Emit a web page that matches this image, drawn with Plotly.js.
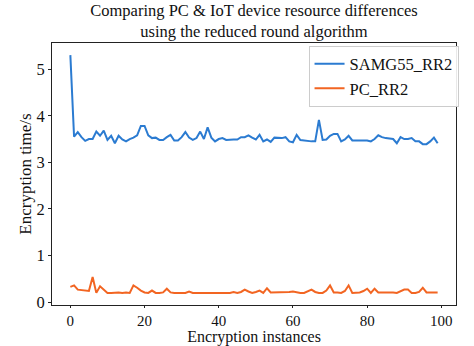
<!DOCTYPE html>
<html>
<head>
<meta charset="utf-8">
<script src="https://cdn.plot.ly/plotly-3.0.1.min.js"></script>
<style>html,body{margin:0;padding:0;background:#fff;}#chart{width:474px;height:346px;}</style>
</head>
<body>
<div id="chart"></div>
<script>
const instances = Array.from({length: 100}, (_, i) => i);
const samg55RR2 = [5.3,3.55,3.65,3.54,3.46,3.50,3.50,3.66,3.57,3.68,
3.48,3.57,3.41,3.57,3.49,3.45,3.50,3.53,3.58,3.78,
3.78,3.58,3.52,3.53,3.48,3.48,3.54,3.59,3.47,3.47,
3.54,3.65,3.53,3.48,3.52,3.66,3.50,3.75,3.53,3.45,
3.50,3.52,3.48,3.49,3.49,3.49,3.54,3.54,3.58,3.53,
3.49,3.59,3.45,3.49,3.44,3.53,3.53,3.52,3.54,3.45,
3.43,3.59,3.48,3.47,3.45,3.45,3.45,3.91,3.48,3.49,
3.57,3.61,3.61,3.45,3.49,3.57,3.47,3.47,3.47,3.48,
3.47,3.45,3.50,3.58,3.54,3.52,3.51,3.50,3.41,3.54,
3.50,3.50,3.52,3.45,3.45,3.39,3.39,3.45,3.53,3.41];
const pcRR2 = [0.33,0.36,0.27,0.26,0.26,0.24,0.54,0.20,0.34,0.27,
0.20,0.20,0.21,0.21,0.20,0.21,0.20,0.36,0.31,0.25,
0.21,0.20,0.25,0.20,0.20,0.21,0.29,0.21,0.20,0.20,
0.20,0.20,0.23,0.20,0.20,0.20,0.21,0.20,0.21,0.20,
0.20,0.20,0.21,0.20,0.22,0.20,0.22,0.27,0.23,0.20,
0.22,0.25,0.20,0.30,0.21,0.21,0.21,0.21,0.21,0.22,
0.23,0.21,0.20,0.20,0.23,0.27,0.22,0.20,0.20,0.25,
0.36,0.21,0.21,0.20,0.24,0.36,0.20,0.21,0.21,0.24,
0.29,0.20,0.29,0.21,0.21,0.22,0.21,0.21,0.20,0.23,
0.27,0.27,0.20,0.20,0.22,0.31,0.21,0.21,0.21,0.21];
const seriesNames = ["SAMG55_RR2", "PC_RR2"];
const xTicks = [0, 20, 40, 60, 80, 100];
const yTicks = [0, 1, 2, 3, 4, 5];

const serif = "Times New Roman, Liberation Serif, serif";
const traces = [
  {x: instances, y: samg55RR2, name: seriesNames[0], type: "scatter", mode: "lines",
   line: {color: "#2b7bd1", width: 2}},
  {x: instances, y: pcRR2, name: seriesNames[1], type: "scatter", mode: "lines",
   line: {color: "#f26522", width: 2}}
];
const axisCommon = {
  showline: true, mirror: true, linecolor: "#222", linewidth: 1,
  ticks: "outside", ticklen: 3, tickcolor: "#222", tickwidth: 1,
  showgrid: false, zeroline: false,
  tickfont: {family: serif, size: 16.5, color: "#111"}
};
const layout = {
  width: 474, height: 346,
  margin: {l: 52, r: 18, t: 43, b: 41},
  paper_bgcolor: "#fff", plot_bgcolor: "#fff",
  font: {family: serif},
  title: {text: "Comparing PC &amp; IoT device resource differences<br>using the reduced round algorithm",
          font: {family: serif, size: 16.5, color: "#111"},
          x: 0.5, xref: "paper", xanchor: "center", y: 0.955, yref: "container", yanchor: "top"},
  xaxis: Object.assign({}, axisCommon, {
    range: [-4.95, 103.95], tickvals: xTicks, ticktext: xTicks.map(String),
    ticklen: 2,
    tickfont: {family: serif, size: 15, color: "#111"},
    title: {text: "Encryption instances", font: {family: serif, size: 16, color: "#111"}, standoff: 4}
  }),
  yaxis: Object.assign({}, axisCommon, {
    range: [-0.06, 5.56], tickvals: yTicks, ticktext: yTicks.map(String),
    title: {text: "Encryption time/s", font: {family: serif, size: 17, color: "#111"}, standoff: 0}
  }),
  legend: {x: 0.635, y: 0.99, xanchor: "left", yanchor: "top",
           bgcolor: "rgba(255,255,255,0.9)", bordercolor: "#ccc", borderwidth: 1,
           font: {family: serif, size: 16.5, color: "#111"}, tracegroupgap: 0},
  showlegend: true
};
Plotly.newPlot("chart", traces, layout, {displayModeBar: false, staticPlot: true});
</script>
</body>
</html>
